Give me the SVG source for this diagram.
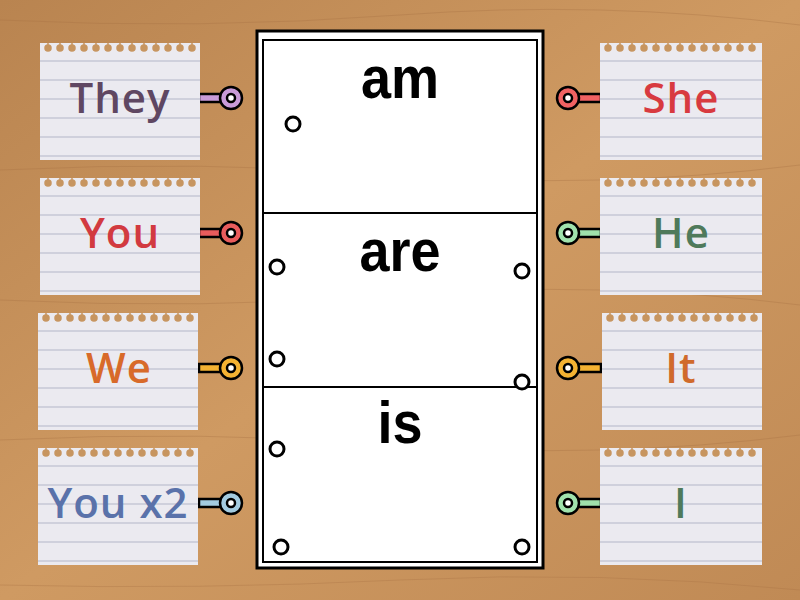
<svg xmlns="http://www.w3.org/2000/svg" width="800" height="600" viewBox="0 0 800 600">
<defs>
<linearGradient id="wood" x1="0" y1="0" x2="1" y2="1">
<stop offset="0" stop-color="#b98450"/>
<stop offset="0.5" stop-color="#cf9a62"/>
<stop offset="1" stop-color="#c08a55"/>
</linearGradient>
<pattern id="paper" x="0" y="0" width="160" height="19" patternUnits="userSpaceOnUse">
<rect width="160" height="19" fill="#ebeaf0"/>
<line x1="0" y1="18" x2="160" y2="18" stroke="#c6c8d6" stroke-width="1.5"/>
</pattern>
<g id="holes">
<g fill="#c79560" stroke="#c79560" stroke-width="1.5">
<circle cx="8" cy="5" r="3"/><circle cx="20" cy="5" r="3"/><circle cx="32" cy="5" r="3"/><circle cx="44" cy="5" r="3"/><circle cx="56" cy="5" r="3"/><circle cx="68" cy="5" r="3"/><circle cx="80" cy="5" r="3"/><circle cx="92" cy="5" r="3"/><circle cx="104" cy="5" r="3"/><circle cx="116" cy="5" r="3"/><circle cx="128" cy="5" r="3"/><circle cx="140" cy="5" r="3"/><circle cx="152" cy="5" r="3"/>
<path d="M8 0V5M20 0V5M32 0V5M44 0V5M56 0V5M68 0V5M80 0V5M92 0V5M104 0V5M116 0V5M128 0V5M140 0V5M152 0V5"/>
</g>
</g>
</defs>
<style>
.card{fill:url(#paper)}
.lbl{font-family:"Open Sans","DejaVu Sans",sans-serif;font-size:42px;text-anchor:middle;font-weight:600;letter-spacing:1px}
.ttl{font-family:"Liberation Sans",Arial,sans-serif;font-size:54px;font-weight:bold;text-anchor:middle;fill:#000}
.dot{fill:#fff;stroke:#000;stroke-width:3}
.pin{stroke:#000;stroke-width:2.5}
</style>
<rect width="800" height="600" fill="url(#wood)"/>
<g stroke="#a87244" stroke-width="1" opacity="0.35" fill="none">
<path d="M0 20 Q200 30 400 15 T800 25"/>
<path d="M0 170 Q200 160 400 175 T800 165"/>
<path d="M0 300 Q200 310 400 295 T800 305"/>
<path d="M0 440 Q200 430 400 445 T800 435"/>
<path d="M0 585 Q200 590 400 580 T800 590"/>
</g>

<g id="board">
<rect x="257" y="31" width="286" height="537" fill="#fff" stroke="#000" stroke-width="3"/>
<rect x="263" y="40" width="274" height="173" fill="#fff" stroke="#000" stroke-width="2"/>
<rect x="263" y="213" width="274" height="174" fill="#fff" stroke="#000" stroke-width="2"/>
<rect x="263" y="387" width="274" height="175" fill="#fff" stroke="#000" stroke-width="2"/>
<text class="ttl" transform="translate(400,98) scale(1,1.1)">am</text>
<text class="ttl" transform="translate(400,271) scale(1,1.1)">are</text>
<text class="ttl" transform="translate(400,443) scale(1,1.1)">is</text>
<circle class="dot" cx="293" cy="124" r="7"/>
<circle class="dot" cx="277" cy="267" r="7"/>
<circle class="dot" cx="522" cy="271" r="7"/>
<circle class="dot" cx="277" cy="359" r="7"/>
<circle class="dot" cx="522" cy="382" r="7"/>
<circle class="dot" cx="277" cy="449" r="7"/>
<circle class="dot" cx="281" cy="547" r="7"/>
<circle class="dot" cx="522" cy="547" r="7"/>
</g>

<g id="connectors">
<g><rect x="199" y="94" width="24" height="8" fill="#c99bd8" class="pin"/><circle cx="231" cy="98" r="11" fill="#c99bd8" class="pin"/><circle cx="231" cy="98" r="4" fill="#fff" class="pin"/></g>
<g><rect x="199" y="229" width="24" height="8" fill="#e85c5c" class="pin"/><circle cx="231" cy="233" r="11" fill="#e85c5c" class="pin"/><circle cx="231" cy="233" r="4" fill="#fff" class="pin"/></g>
<g><rect x="199" y="364" width="24" height="8" fill="#f4b232" class="pin"/><circle cx="231" cy="368" r="11" fill="#f4b232" class="pin"/><circle cx="231" cy="368" r="4" fill="#fff" class="pin"/></g>
<g><rect x="199" y="499" width="24" height="8" fill="#a3cbe0" class="pin"/><circle cx="231" cy="503" r="11" fill="#a3cbe0" class="pin"/><circle cx="231" cy="503" r="4" fill="#fff" class="pin"/></g>
<g><rect x="577" y="94" width="24" height="8" fill="#f06262" class="pin"/><circle cx="568" cy="98" r="11" fill="#f06262" class="pin"/><circle cx="568" cy="98" r="4" fill="#fff" class="pin"/></g>
<g><rect x="577" y="229" width="24" height="8" fill="#a0e2ac" class="pin"/><circle cx="568" cy="233" r="11" fill="#a0e2ac" class="pin"/><circle cx="568" cy="233" r="4" fill="#fff" class="pin"/></g>
<g><rect x="577" y="364" width="24" height="8" fill="#f4b232" class="pin"/><circle cx="568" cy="368" r="11" fill="#f4b232" class="pin"/><circle cx="568" cy="368" r="4" fill="#fff" class="pin"/></g>
<g><rect x="577" y="499" width="24" height="8" fill="#a0e2ac" class="pin"/><circle cx="568" cy="503" r="11" fill="#a0e2ac" class="pin"/><circle cx="568" cy="503" r="4" fill="#fff" class="pin"/></g>
</g>

<g id="card-they" transform="translate(40,43)"><rect class="card" width="160" height="117"/><use href="#holes"/><text class="lbl" x="80" y="70" fill="#5f4762">They</text></g>
<g id="card-you" transform="translate(40,178)"><rect class="card" width="160" height="117"/><use href="#holes"/><text class="lbl" x="80" y="70" fill="#d23a40">You</text></g>
<g id="card-we" transform="translate(38,313)"><rect class="card" width="160" height="117"/><use href="#holes"/><text class="lbl" x="81" y="70" fill="#d86a2a">We</text></g>
<g id="card-youx2" transform="translate(38,448)"><rect class="card" width="160" height="117"/><use href="#holes"/><text class="lbl" x="80" y="70" fill="#5a72aa">You x2</text></g>
<g id="card-she" transform="translate(600,43)"><rect class="card" width="162" height="117"/><use href="#holes"/><text class="lbl" x="81" y="70" fill="#d83a40">She</text></g>
<g id="card-he" transform="translate(600,178)"><rect class="card" width="162" height="117"/><use href="#holes"/><text class="lbl" x="81" y="70" fill="#4f7a5b">He</text></g>
<g id="card-it" transform="translate(602,313)"><rect class="card" width="160" height="117"/><use href="#holes"/><text class="lbl" x="79" y="70" fill="#d06a2c">It</text></g>
<g id="card-i" transform="translate(600,448)"><rect class="card" width="162" height="117"/><use href="#holes"/><text class="lbl" x="81" y="70" fill="#4f7a5b">I</text></g>
</svg>
